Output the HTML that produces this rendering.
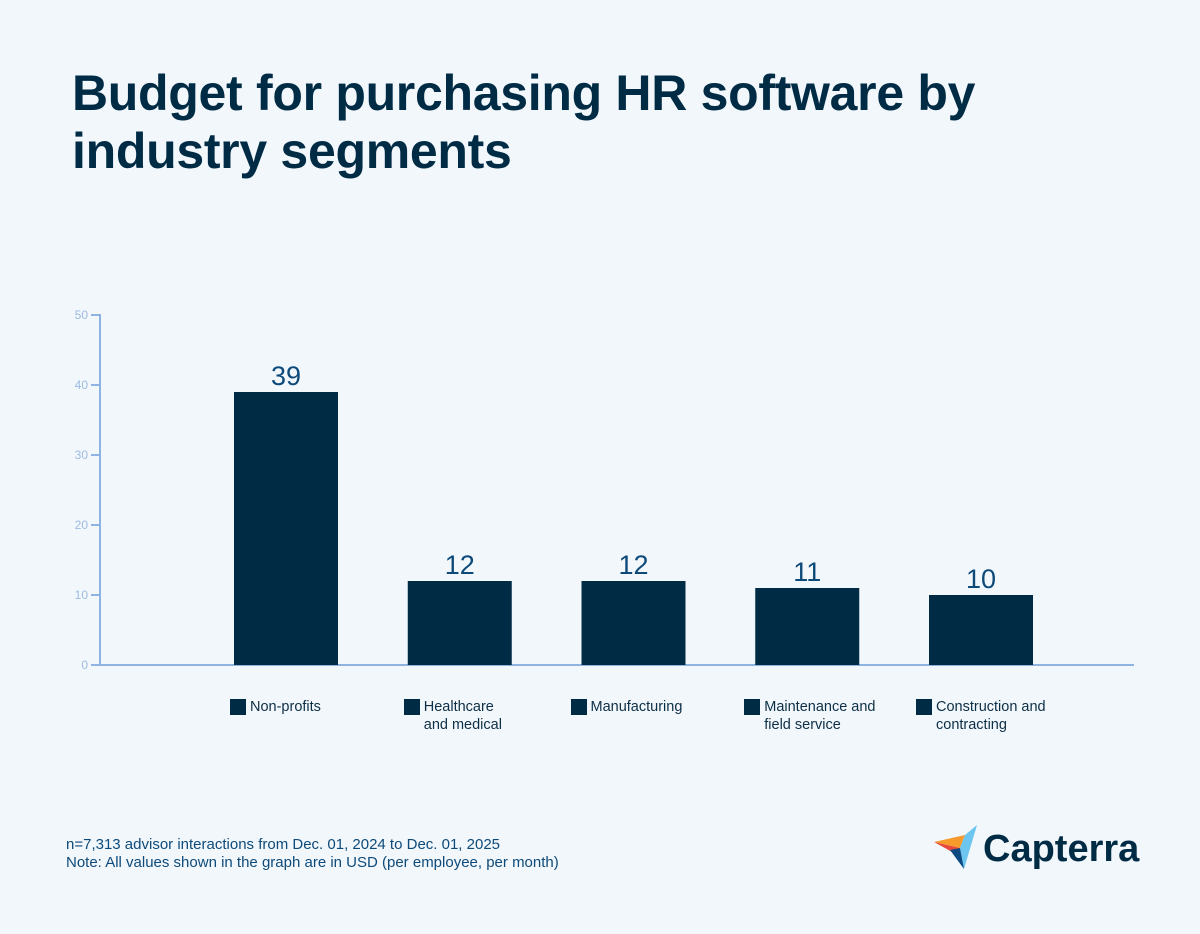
<!DOCTYPE html>
<html><head><meta charset="utf-8"><style>
body{margin:0;width:1200px;height:934px;background:#f2f7fc;font-family:"Liberation Sans",sans-serif;overflow:hidden;position:relative}
h1{position:absolute;left:72px;top:64px;margin:0;font-size:50px;line-height:58px;font-weight:bold;color:#002b45;letter-spacing:-0.3px}
.foot{position:absolute;left:66px;top:836px;font-size:15px;line-height:18px;color:#0d4a7a}
.lg{position:absolute;font-size:14.5px;line-height:18px;color:#0d2f45}
.lg i{position:absolute;left:-20px;top:1px;width:16px;height:16px;background:#002b45}
</style></head><body>
<h1>Budget for purchasing HR software by<br>industry segments</h1>
<svg id="c" width="1200" height="934" style="position:absolute;left:0;top:0"></svg>
<div id="legend"></div>
<div class="foot">n=7,313 advisor interactions from Dec. 01, 2024 to Dec. 01, 2025<br>Note: All values shown in the graph are in USD (per employee, per month)</div>
<svg width="220" height="60" style="position:absolute;left:930px;top:820px">
<polygon points="4,22 35,15 30,28" fill="#f59a2b"/>
<polygon points="4,22 30,28 24,33" fill="#e8473c"/>
<polygon points="35,15 47,5 34,49 30,28" fill="#6cc6f0"/>
<polygon points="20,30 30,28 34,49" fill="#0a4a80"/>
<text x="53" y="41" font-size="38" font-weight="bold" fill="#002b45" font-family="Liberation Sans,sans-serif">Capterra</text>
</svg>
<script>
const categories=["Non-profits","Healthcare and medical","Manufacturing","Maintenance and field service","Construction and contracting"];
const legendLines=[["Non-profits"],["Healthcare","and medical"],["Manufacturing"],["Maintenance and","field service"],["Construction and","contracting"]];
const values=[39,12,12,11,10];
const ticks=[0,10,20,30,40,50];
const legendOffset=[-36,-36,-43,-43,-45];
const NS="http://www.w3.org/2000/svg";
const svg=document.getElementById('c');
const y=v=>665-v*7;
const x=i=>286+i*173.75;
function mk(t,a){const e=document.createElementNS(NS,t);for(const k in a)e.setAttribute(k,a[k]);svg.appendChild(e);return e;}
const ax=mk('line',{x1:100,y1:314,x2:100,y2:666,stroke:'#8fb3e0','stroke-width':2});


const bx=mk('line',{x1:99,y1:665,x2:1134,y2:665,stroke:'#8fb3e0','stroke-width':2});


ticks.forEach(t=>{
 const l=mk('line',{x1:91,x2:100,y1:y(t),y2:y(t),stroke:'#8fb3e0','stroke-width':2});
 
 
 const tx=mk('text',{x:88,y:y(t)+4,'text-anchor':'end','font-size':12,fill:'#9dbbe0'});
 tx.textContent=t;
 
 
});
values.forEach((v,i)=>{
 const r=mk('rect',{x:x(i)-52,y:y(v),width:104,height:v*7,fill:'#002b45'});
 
 
 const t=mk('text',{x:x(i),y:y(v)-7,'text-anchor':'middle','font-size':27,fill:'#0d4a7a'});
 t.textContent=v;
 
 
});
const lg=document.getElementById('legend');
legendLines.forEach((ls,i)=>{
 const d=document.createElement('div');
 d.className='lg';
 d.style.left=(x(i)+legendOffset[i])+'px';d.style.top='698px';
 d.innerHTML='<i></i>'+ls.join('<br>');
 
 
 lg.appendChild(d);
});
</script>
</body></html>
